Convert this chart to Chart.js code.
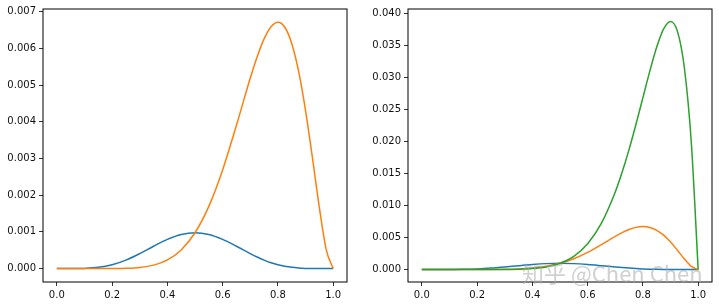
<!DOCTYPE html>
<html>
<head>
<meta charset="utf-8">
<script src="https://cdn.jsdelivr.net/npm/chart.js@4"></script>
<style>
  body { margin: 0; background: #fff; }
  .box { position: absolute; top: 0; height: 305px; }
  #leftBox { left: 0; width: 360px; }
  #rightBox { left: 360px; width: 359px; }
</style>
</head>
<body>
<div class="box" id="leftBox"><canvas id="leftChart"></canvas></div>
<div class="box" id="rightBox"><canvas id="rightChart"></canvas></div>
<script>
// sample positions along x
const xs = [0, 0.05, 0.1, 0.15, 0.2, 0.25, 0.3, 0.35, 0.4, 0.45, 0.5, 0.55, 0.6, 0.65, 0.7, 0.725, 0.75, 0.775, 0.8, 0.825, 0.85, 0.875, 0.9, 0.925, 0.95, 0.975, 1.0];

const blueVals = [0, 0.00000024, 0.0000059, 0.0000337, 0.0001049, 0.0002317, 0.0004084, 0.0006094, 0.0007963, 0.0009287, 0.0009766,
  0.0009287, 0.0007963, 0.0006094, 0.0004084, 0.0003150, 0.0002317, 0.0001612, 0.0001049, 0.0000627, 0.0000337, 0.0000157, 0.0000059, 0.0000016, 0.00000024, 0.00000001, 0];
const orangeVals = [0, 0, 0.00000001, 0.00000019, 0.0000016, 0.0000086, 0.0000321, 0.0000951, 0.0002359, 0.0005087, 0.0009766,
  0.0016956, 0.0026874, 0.0039034, 0.0051883, 0.0057726, 0.0062571, 0.0065884, 0.0067109, 0.0065722, 0.0061310, 0.0053689, 0.0043047, 0.0030148, 0.0016586, 0.0005104, 0];
const greenVals = [0, 0, 0, 0.00000003, 0.0000004, 0.0000029, 0.0000138, 0.0000512, 0.0001573, 0.0004162, 0.0009766,
  0.0020724, 0.0040311, 0.0072492, 0.0121061, 0.0152186, 0.0187712, 0.0226933, 0.0268436, 0.0309830, 0.0347425, 0.0375822, 0.0387421, 0.0371824, 0.0315125, 0.0199059, 0];

const xTicks = [0, 0.2, 0.4, 0.6, 0.8, 1.0];
const leftYTicks = [0, 0.001, 0.002, 0.003, 0.004, 0.005, 0.006, 0.007];
const rightYTicks = [0, 0.005, 0.010, 0.015, 0.020, 0.025, 0.030, 0.035, 0.040];

const BLUE = "#1f77b4";
const ORANGE = "#ff7f0e";
const GREEN = "#2ca02c";

function pts(vals) {
  return xs.map((x, i) => ({ x: x, y: vals[i] }));
}

function series(vals, color, order) {
  return {
    data: pts(vals),
    borderColor: color,
    borderWidth: 1.5,
    pointRadius: 0,
    fill: false,
    cubicInterpolationMode: "monotone",
    order: order,
  };
}

// full black frame round the plot area, like matplotlib spines
const framePlugin = {
  id: "frame",
  afterDraw(chart) {
    const a = chart.chartArea;
    const c = chart.ctx;
    c.save();
    c.strokeStyle = "#000";
    c.lineWidth = 1;
    c.strokeRect(a.left, a.top, a.right - a.left, a.bottom - a.top);
    c.restore();
  },
};

const watermarkPlugin = {
  id: "watermark",
  afterDraw(chart) {
    const c = chart.ctx;
    c.save();
    c.font = '22px "Noto Sans CJK SC", "Noto Sans", sans-serif';
    c.textBaseline = "alphabetic";
    c.fillStyle = "rgba(170,170,170,0.55)";
    c.fillText("知乎 @Chen Chen", 162, 282);
    c.restore();
  },
};

function makeChart(id, datasets, yTicks, yMin, yMax, yWidth, padRight, extra) {
  const tickFont = { family: "DejaVu Sans", size: 10 };
  const plugins = [framePlugin];
  if (extra) plugins.push(extra);
  return new Chart(document.getElementById(id), {
    type: "line",
    data: { datasets },
    plugins,
    options: {
      responsive: true,
      maintainAspectRatio: false,
      animation: false,
      layout: { padding: { left: 0, top: 9, right: padRight, bottom: 0 } },
      plugins: { legend: { display: false }, tooltip: { enabled: false } },
      scales: {
        x: {
          type: "linear",
          min: -0.05,
          max: 1.05,
          afterBuildTicks: (s) => { s.ticks = xTicks.map((v) => ({ value: v })); },
          afterFit: (s) => { s.height = 23; },
          border: { display: false },
          grid: { drawOnChartArea: false, drawTicks: true, tickLength: 4, tickWidth: 0.8, tickColor: "#000" },
          ticks: { color: "#111", font: tickFont, padding: 3, maxRotation: 0, callback: (v) => v.toFixed(1) },
        },
        y: {
          type: "linear",
          min: yMin,
          max: yMax,
          afterBuildTicks: (s) => { s.ticks = yTicks.map((v) => ({ value: v })); },
          afterFit: (s) => { s.width = yWidth; },
          border: { display: false },
          grid: { drawOnChartArea: false, drawTicks: true, tickLength: 4, tickWidth: 0.8, tickColor: "#000" },
          ticks: { color: "#111", font: tickFont, padding: 3, callback: (v) => v.toFixed(3) },
        },
      },
    },
  });
}

makeChart("leftChart", [
  series(blueVals, BLUE, 2),
  series(orangeVals, ORANGE, 1),
], leftYTicks, -0.000365, 0.00707, 43, 13);

makeChart("rightChart", [
  series(blueVals, BLUE, 3),
  series(orangeVals, ORANGE, 2),
  series(greenVals, GREEN, 1),
], rightYTicks, -0.00194, 0.04068, 48, 7, watermarkPlugin);
</script>
</body>
</html>
